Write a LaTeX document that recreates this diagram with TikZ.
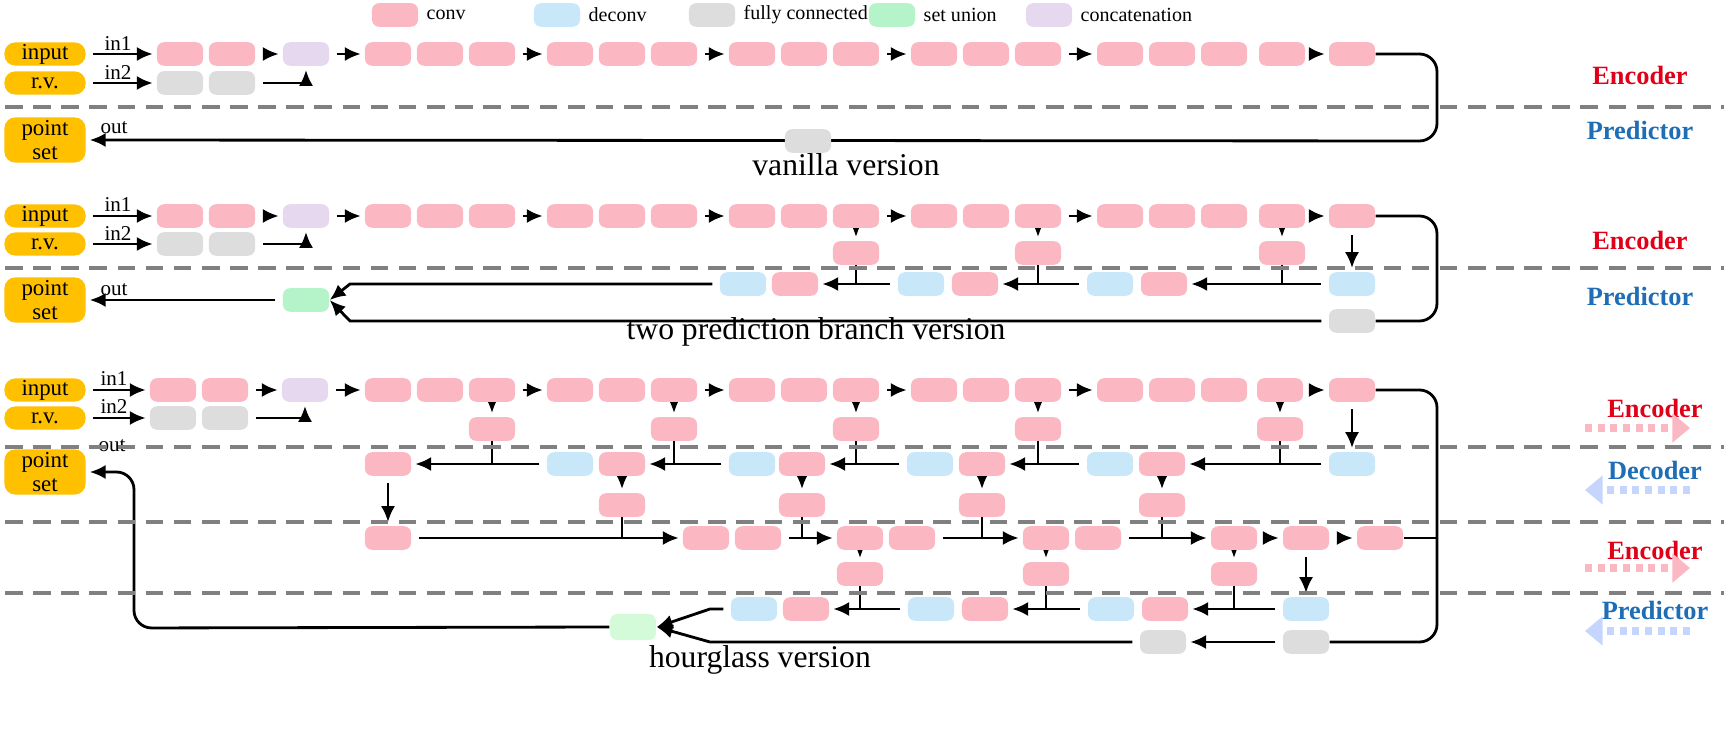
\documentclass[tikz,border=0pt]{standalone}
\usepackage{fontspec}
\setmainfont{Liberation Serif}
\usetikzlibrary{arrows.meta,backgrounds}
\definecolor{pk}{HTML}{FBB7C2}
\definecolor{bl}{HTML}{C8E8FA}
\definecolor{gy}{HTML}{DDDDDD}
\definecolor{gn}{HTML}{B5F3C8}
\definecolor{pu}{HTML}{E6D9EF}
\definecolor{og}{HTML}{FFC000}
\definecolor{encred}{HTML}{E00018}
\definecolor{predblue}{HTML}{1F6DB5}
\tikzset{
  blk/.style={draw=none,rounded corners=2pt,minimum width=0.46cm,minimum height=0.235cm,inner sep=0pt},
  io/.style={fill=og,rounded corners=3pt,minimum width=0.81cm,minimum height=0.23cm,inner sep=0pt,font=\fontsize{6.5}{7}\selectfont},
  arr/.style={line width=0.8pt,-{Latex[length=4.5pt,width=4pt]},shorten <=2pt,shorten >=1pt},
  ln/.style={line width=0.8pt},
  sep/.style={gray,line width=1.2pt,dash pattern=on 5pt off 3pt},
  lab/.style={font=\fontsize{6}{7}\selectfont,inner sep=0pt},
  leg/.style={font=\fontsize{5.7}{7}\selectfont,inner sep=0pt,anchor=west},
  ttl/.style={font=\fontsize{9}{10}\selectfont,inner sep=0pt},
  side/.style={font=\bfseries\fontsize{7.5}{8}\selectfont,inner sep=0pt},
  dotr/.style={pk,line width=2.5pt,dash pattern=on 2pt off 1.6pt,-{Triangle[length=5pt,width=8pt]}},
  dotb/.style={bl!80!blue!60,line width=2.5pt,dash pattern=on 2pt off 1.6pt,-{Triangle[length=5pt,width=8pt]}}
}
\newcommand\bx[4]{\node[blk,fill=#4] (#1) at ({#2+23},#3) {};}
\begin{document}
\begin{tikzpicture}[x=0.01cm,y=-0.01cm]
\useasboundingbox (0,0) rectangle (1724,749);
% legend
\bx{l1}{372}{15}{pk} \node[leg] at (426,15) {conv};
\bx{l2}{534}{15}{bl} \node[leg] at (588,15) {deconv};
\bx{l3}{689}{15}{gy} \node[leg] at (743,15) {fully connected};
\bx{l4}{869}{15}{gn} \node[leg] at (923,15) {set union};
\bx{l5}{1026}{15}{pu} \node[leg] at (1080,15) {concatenation};

% ---------------- vanilla ----------------
\node[io] (ain) at (45,54) {input};
\node[io] (arv) at (45,83) {r.v.};
\node[io,minimum height=0.45cm,align=center] (aps) at (45,140) {point\\set};
\bx{a1}{157}{54}{pk} \bx{a2}{209}{54}{pk}
\bx{ag1}{157}{83}{gy} \bx{ag2}{209}{83}{gy}
\bx{acat}{283}{54}{pu}
\foreach \x [count=\i] in {365,417,469,547,599,651,729,781,833,911,963,1015,1097,1149,1201,1259,1329}
  {\bx{aE\i}{\x}{54}{pk}}
\bx{aF}{785}{141}{gy}
\node[lab] at (118,44) {in1};
\node[lab] at (118,73) {in2};
\node[lab] at (114,128) {out};
\node[ttl] at (846,165) {vanilla version};
\node[side,text=encred] at (1640,75) {Encoder};
\node[side,text=predblue] at (1640,130) {Predictor};
\draw[sep] (5,107) -- (1724,107);
\begin{pgfonlayer}{background}
\draw[arr] (ain) -- (a1);
\draw[arr] (arv) -- (ag1);
\draw[arr] (a2) -- (acat);
\draw[arr] (ag2.east) -| (acat.south);
\draw[arr] (acat) -- (aE1);
\foreach \a/\b in {3/4,6/7,9/10,12/13,16/17} \draw[arr] (aE\a) -- (aE\b);
\draw[arr,rounded corners=5pt,shorten <=0pt] (aE17.east) -- (1437,54) -- (1437,141) -- (aps.east);
\end{pgfonlayer}

% ---------------- two branch ----------------
\node[io] (bin) at (45,216) {input};
\node[io] (brv) at (45,244) {r.v.};
\node[io,minimum height=0.45cm,align=center] (bps) at (45,300) {point\\set};
\bx{b1}{157}{216}{pk} \bx{b2}{209}{216}{pk}
\bx{bg1}{157}{244}{gy} \bx{bg2}{209}{244}{gy}
\bx{bcat}{283}{216}{pu}
\foreach \x [count=\i] in {365,417,469,547,599,651,729,781,833,911,963,1015,1097,1149,1201,1259,1329}
  {\bx{bE\i}{\x}{216}{pk}}
\bx{bD1}{833}{253}{pk} \bx{bD2}{1015}{253}{pk} \bx{bD3}{1259}{253}{pk}
\bx{bB1}{720}{284}{bl} \bx{bP1}{772}{284}{pk}
\bx{bB2}{898}{284}{bl} \bx{bP2}{952}{284}{pk}
\bx{bB3}{1087}{284}{bl} \bx{bP3}{1141}{284}{pk}
\bx{bB4}{1329}{284}{bl}
\bx{bF}{1329}{321}{gy}
\bx{bU}{283}{300}{gn}
\node[lab] at (118,205) {in1};
\node[lab] at (118,234) {in2};
\node[lab] at (114,290) {out};
\node[ttl] at (816,332) {two prediction branch version};
\node[side,text=encred] at (1640,240) {Encoder};
\node[side,text=predblue] at (1640,296) {Predictor};
\draw[sep] (5,268) -- (1724,268);
\begin{pgfonlayer}{background}
\draw[arr] (bin) -- (b1);
\draw[arr] (brv) -- (bg1);
\draw[arr] (b2) -- (bcat);
\draw[arr] (bg2.east) -| (bcat.south);
\draw[arr] (bcat) -- (bE1);
\foreach \a/\b in {3/4,6/7,9/10,12/13,16/17} \draw[arr] (bE\a) -- (bE\b);
\draw[arr] (bE9) -- (bD1);
\draw[arr] (bE12) -- (bD2);
\draw[arr] (bE16) -- (bD3);
\draw[arr] (bE17) -- (bB4);
\draw[arr] (bB4) -- (bP3); \draw[ln] (bD3.south) -- (bD3.south |- bB4.west);
\draw[arr] (bB3) -- (bP2); \draw[ln] (bD2.south) -- (bD2.south |- bB3.west);
\draw[arr] (bB2) -- (bP1); \draw[ln] (bD1.south) -- (bD1.south |- bB2.west);
\draw[arr,shorten >=0pt] (bB1.west) -- (350,284) -- (bU.east);
\draw[arr,shorten >=0pt] (bF.west) -- (350,321) -- (bU.east);
\draw[arr] (bU) -- (bps);
\draw[ln,rounded corners=5pt] (bE17.east) -- (1437,216) -- (1437,321) -- (bF.east);
\end{pgfonlayer}

% ---------------- hourglass ----------------
\node[io] (cin) at (45,390) {input};
\node[io] (crv) at (45,418) {r.v.};
\node[io,minimum height=0.45cm,align=center] (cps) at (45,472) {point\\set};
\bx{c1}{150}{390}{pk} \bx{c2}{202}{390}{pk}
\bx{cg1}{150}{418}{gy} \bx{cg2}{202}{418}{gy}
\bx{ccat}{282}{390}{pu}
\foreach \x [count=\i] in {365,417,469,547,599,651,729,781,833,911,963,1015,1097,1149,1201,1257,1329}
  {\bx{cE\i}{\x}{390}{pk}}
\bx{cD1}{469}{429}{pk} \bx{cD2}{651}{429}{pk} \bx{cD3}{833}{429}{pk}
\bx{cD4}{1015}{429}{pk} \bx{cD5}{1257}{429}{pk}
% decoder
\bx{cP1}{365}{464}{pk}
\bx{cB1}{547}{464}{bl} \bx{cP2}{599}{464}{pk}
\bx{cB2}{729}{464}{bl} \bx{cP3}{779}{464}{pk}
\bx{cB3}{907}{464}{bl} \bx{cP4}{959}{464}{pk}
\bx{cB4}{1087}{464}{bl} \bx{cP5}{1139}{464}{pk}
\bx{cB5}{1329}{464}{bl}
\bx{cQ2}{599}{505}{pk} \bx{cQ3}{779}{505}{pk} \bx{cQ4}{959}{505}{pk} \bx{cQ5}{1139}{505}{pk}
% second encoder
\foreach \x [count=\i] in {365,683,735,837,889,1023,1075,1211,1283,1357}
  {\bx{cR\i}{\x}{538}{pk}}
\bx{cS1}{837}{574}{pk} \bx{cS2}{1023}{574}{pk} \bx{cS3}{1211}{574}{pk}
% predictor
\bx{cB6}{731}{609}{bl} \bx{cP6}{783}{609}{pk}
\bx{cB7}{908}{609}{bl} \bx{cP7}{962}{609}{pk}
\bx{cB8}{1088}{609}{bl} \bx{cP8}{1142}{609}{pk}
\bx{cB9}{1283}{609}{bl}
\bx{cF1}{1140}{642}{gy} \bx{cF2}{1283}{642}{gy}
\node[blk,fill=gn!80!green!40,minimum height=0.26cm] (cU) at (633,627) {};
\node[lab] at (114,379) {in1};
\node[lab] at (114,407) {in2};
\node[lab] at (112,446) {out};
\node[ttl] at (760,660) {hourglass version};
\node[side,text=encred] at (1655,408) {Encoder};
\draw[dotr] (1585,428) -- (1690,428);
\node[side,text=predblue] at (1655,470) {Decoder};
\draw[dotb] (1690,490) -- (1585,490);
\node[side,text=encred] at (1655,550) {Encoder};
\draw[dotr] (1585,568) -- (1690,568);
\node[side,text=predblue] at (1655,610) {Predictor};
\draw[dotb] (1690,631) -- (1585,631);
\draw[sep] (5,447) -- (1724,447);
\draw[sep] (5,522) -- (1724,522);
\draw[sep] (5,593) -- (1724,593);
\begin{pgfonlayer}{background}
\draw[arr] (cin) -- (c1);
\draw[arr] (crv) -- (cg1);
\draw[arr] (c2) -- (ccat);
\draw[arr] (cg2.east) -| (ccat.south);
\draw[arr] (ccat) -- (cE1);
\foreach \a/\b in {3/4,6/7,9/10,12/13,16/17} \draw[arr] (cE\a) -- (cE\b);
\draw[arr] (cE3) -- (cD1); \draw[arr] (cE6) -- (cD2); \draw[arr] (cE9) -- (cD3);
\draw[arr] (cE12) -- (cD4); \draw[arr] (cE16) -- (cD5);
\draw[arr] (cE17) -- (cB5);
\draw[arr] (cB5) -- (cP5); \draw[ln] (cD5.south) -- (cD5.south |- cB5.west);
\draw[arr] (cB4) -- (cP4); \draw[ln] (cD4.south) -- (cD4.south |- cB4.west);
\draw[arr] (cB3) -- (cP3); \draw[ln] (cD3.south) -- (cD3.south |- cB3.west);
\draw[arr] (cB2) -- (cP2); \draw[ln] (cD2.south) -- (cD2.south |- cB2.west);
\draw[arr] (cB1) -- (cP1); \draw[ln] (cD1.south) -- (cD1.south |- cB1.west);
\draw[arr] (cP2) -- (cQ2); \draw[arr] (cP3) -- (cQ3);
\draw[arr] (cP4) -- (cQ4); \draw[arr] (cP5) -- (cQ5);
\draw[arr] (cP1) -- (cR1);
\draw[arr] (cR1) -- (cR2); \draw[ln] (cQ2.south) -- (cQ2.south |- cR1.east);
\draw[arr] (cR3) -- (cR4); \draw[ln] (cQ3.south) -- (cQ3.south |- cR3.east);
\draw[arr] (cR5) -- (cR6); \draw[ln] (cQ4.south) -- (cQ4.south |- cR5.east);
\draw[arr] (cR7) -- (cR8); \draw[ln] (cQ5.south) -- (cQ5.south |- cR7.east);
\draw[arr] (cR8) -- (cR9); \draw[arr] (cR9) -- (cR10);
\draw[arr] (cR4) -- (cS1); \draw[arr] (cR6) -- (cS2); \draw[arr] (cR8) -- (cS3);
\draw[arr] (cR9) -- (cB9);
\draw[arr] (cB9) -- (cP8); \draw[ln] (cS3.south) -- (cS3.south |- cB9.west);
\draw[arr] (cB8) -- (cP7); \draw[ln] (cS2.south) -- (cS2.south |- cB8.west);
\draw[arr] (cB7) -- (cP6); \draw[ln] (cS1.south) -- (cS1.south |- cB7.west);
\draw[arr] (cF2) -- (cF1);
\draw[arr,shorten >=0pt] (cB6.west) -- (710,609) -- (cU.east);
\draw[arr,shorten >=0pt] (cF1.west) -- (710,642) -- (cU.east);
\draw[arr,rounded corners=5pt,shorten <=0pt] (cU.west) -- (134,628) -- (134,472) -- (cps.east);
\draw[ln,rounded corners=5pt] (cE17.east) -- (1437,390) -- (1437,642) -- (cF2.east);
\draw[ln] (cR10.east) -- (1437,538);
\end{pgfonlayer}
\end{tikzpicture}
\end{document}
